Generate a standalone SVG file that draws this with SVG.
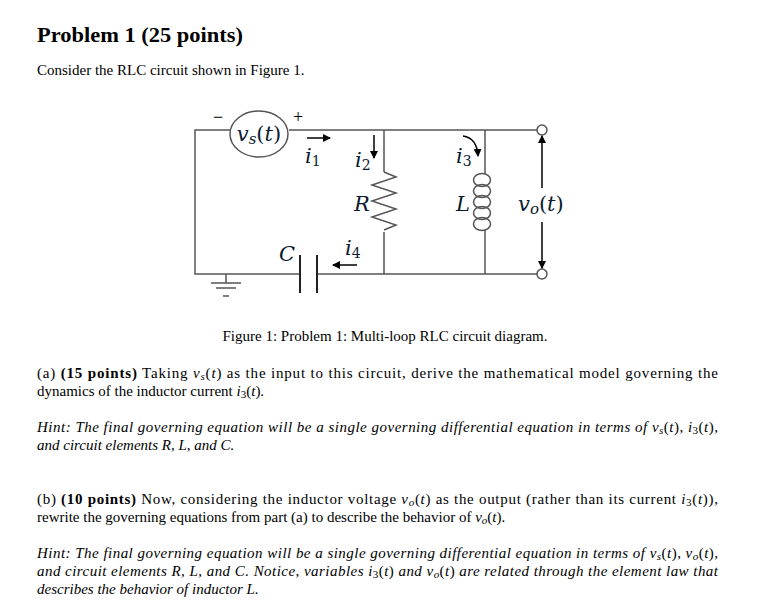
<svg xmlns="http://www.w3.org/2000/svg" width="771" height="614" viewBox="0 0 771 614">
<style>
.t{font-family:"Liberation Serif",serif;font-size:15px;fill:#000}
.b{font-weight:bold}
.i{font-style:italic}
.c{font-family:"DejaVu Serif",serif;font-style:italic;font-size:21px;fill:#0a1a30}
.w{stroke:#555;stroke-width:1.5;fill:none}
.a{stroke:#000;stroke-width:1.5;fill:none}
</style>
<defs><marker id="ah" markerWidth="8" markerHeight="8" refX="7" refY="4" orient="auto" markerUnits="userSpaceOnUse"><path d="M0,0 L8,4 L0,8 z" fill="#000"/></marker></defs>
<rect width="771" height="614" fill="#fff"/>
<text x="37" y="42" class="t b" style="font-size:22px" textLength="206" lengthAdjust="spacingAndGlyphs">Problem 1 (25 points)</text>
<text x="37" y="75" class="t">Consider the RLC circuit shown in Figure 1.</text>
<g id="connectors">
<path class="w" d="M230,130 H195 V274 H300 M317,274 H542 M289,130 H542 M384,130 V172 M384,232 V274 M485,130 V174 M485,230 V274 M226,274 V283"/>
<path class="w" d="M384,172 l12,5 l-24,8 l24,8 l-24,8 l24,8 l-24,8 l24,8 l-12,5"/>
<g class="w"><ellipse cx="482" cy="180" rx="8.5" ry="6.5"/><ellipse cx="482" cy="191" rx="8.5" ry="6.5"/><ellipse cx="482" cy="202" rx="8.5" ry="6.5"/><ellipse cx="482" cy="213" rx="8.5" ry="6.5"/><ellipse cx="482" cy="224" rx="8.5" ry="6.5"/></g>
<path stroke="#222" stroke-width="2" d="M300,255 V293 M317,255 V293"/>
<path stroke="#555" stroke-width="1.5" d="M211,283 H241 M216,288 H236 M223,296 H229"/>
<circle cx="542" cy="130" r="5" fill="#fff" stroke="#555" stroke-width="1.5"/>
<circle cx="542" cy="274" r="5" fill="#fff" stroke="#555" stroke-width="1.5"/>
<path class="a" d="M542,188 V136" marker-end="url(#ah)"/>
<path class="a" d="M542,222 V268" marker-end="url(#ah)"/>
<path class="a" d="M307,138 H330" marker-end="url(#ah)"/>
<path class="a" d="M374,135 V158" marker-end="url(#ah)"/>
<path class="a" d="M463,136 Q477,138 478,156" marker-end="url(#ah)"/>
<path class="a" d="M357,265 H333" marker-end="url(#ah)"/>
</g>
<g id="source"><ellipse cx="259" cy="134" rx="29" ry="23" fill="#fff" stroke="#555" stroke-width="1.5"/><text x="259" y="141" class="c" text-anchor="middle">v<tspan style="font-size:15px" dy="3">s</tspan><tspan dy="-3" font-style="normal">(</tspan>t<tspan font-style="normal">)</tspan></text>
<text x="218" y="123" class="t" style="font-size:18px" text-anchor="middle">−</text><text x="298" y="123" class="t" style="font-size:18px" text-anchor="middle">+</text></g>
<g id="labels">
<text x="305" y="163" class="c">i<tspan style="font-size:14px" dy="3" font-style="normal">1</tspan></text>
<text x="355" y="167" class="c">i<tspan style="font-size:14px" dy="3" font-style="normal">2</tspan></text>
<text x="456" y="163" class="c">i<tspan style="font-size:14px" dy="3" font-style="normal">3</tspan></text>
<text x="345" y="255" class="c">i<tspan style="font-size:14px" dy="3" font-style="normal">4</tspan></text>
<text x="354" y="211" class="c">R</text>
<text x="456" y="211" class="c">L</text>
<text x="279" y="261" class="c">C</text>
<text x="518" y="211" class="c">v<tspan style="font-size:15px" dy="3">o</tspan><tspan dy="-3" font-style="normal">(</tspan>t<tspan font-style="normal">)</tspan></text>
</g>
<text x="385" y="341" class="t" text-anchor="middle">Figure 1: Problem 1: Multi-loop RLC circuit diagram.</text>
<text class="t" x="37" y="378" textLength="681" lengthAdjust="spacing">(a) <tspan class="b">(15 points)</tspan> Taking <tspan class="i">v<tspan font-size="11" dy="2">s</tspan><tspan dy="-2" font-style="normal">(</tspan>t<tspan font-style="normal">)</tspan></tspan> as the input to this circuit, derive the mathematical model governing the</text>
<text class="t" x="37" y="396">dynamics of the inductor current <tspan class="i">i</tspan><tspan font-size="11" dy="2">3</tspan><tspan dy="-2">(</tspan><tspan class="i">t</tspan>).</text>
<text class="t i" x="37" y="432" textLength="681" lengthAdjust="spacing">Hint: The final governing equation will be a single governing differential equation in terms of v<tspan font-size="11" dy="2">s</tspan><tspan dy="-2" font-style="normal">(</tspan>t<tspan font-style="normal">)</tspan>, i<tspan font-size="11" dy="2" font-style="normal">3</tspan><tspan dy="-2" font-style="normal">(</tspan>t<tspan font-style="normal">)</tspan>,</text>
<text class="t i" x="37" y="450">and circuit elements R, L, and C.</text>
<text class="t" x="37" y="504" textLength="681" lengthAdjust="spacing">(b) <tspan class="b">(10 points)</tspan> Now, considering the inductor voltage <tspan class="i">v<tspan font-size="11" dy="2">o</tspan><tspan dy="-2" font-style="normal">(</tspan>t<tspan font-style="normal">)</tspan></tspan> as the output (rather than its current <tspan class="i">i</tspan><tspan font-size="11" dy="2">3</tspan><tspan dy="-2">(</tspan><tspan class="i">t</tspan>)),</text>
<text class="t" x="37" y="522">rewrite the governing equations from part (a) to describe the behavior of <tspan class="i">v<tspan font-size="11" dy="2">o</tspan><tspan dy="-2" font-style="normal">(</tspan>t<tspan font-style="normal">)</tspan></tspan>.</text>
<text class="t i" x="37" y="558" textLength="681" lengthAdjust="spacing">Hint: The final governing equation will be a single governing differential equation in terms of v<tspan font-size="11" dy="2">s</tspan><tspan dy="-2" font-style="normal">(</tspan>t<tspan font-style="normal">)</tspan>, v<tspan font-size="11" dy="2">o</tspan><tspan dy="-2" font-style="normal">(</tspan>t<tspan font-style="normal">)</tspan>,</text>
<text class="t i" x="37" y="576" textLength="681" lengthAdjust="spacing">and circuit elements R, L, and C. Notice, variables i<tspan font-size="11" dy="2" font-style="normal">3</tspan><tspan dy="-2" font-style="normal">(</tspan>t<tspan font-style="normal">)</tspan> and v<tspan font-size="11" dy="2">o</tspan><tspan dy="-2" font-style="normal">(</tspan>t<tspan font-style="normal">)</tspan> are related through the element law that</text>
<text class="t i" x="37" y="594">describes the behavior of inductor L.</text>
</svg>
